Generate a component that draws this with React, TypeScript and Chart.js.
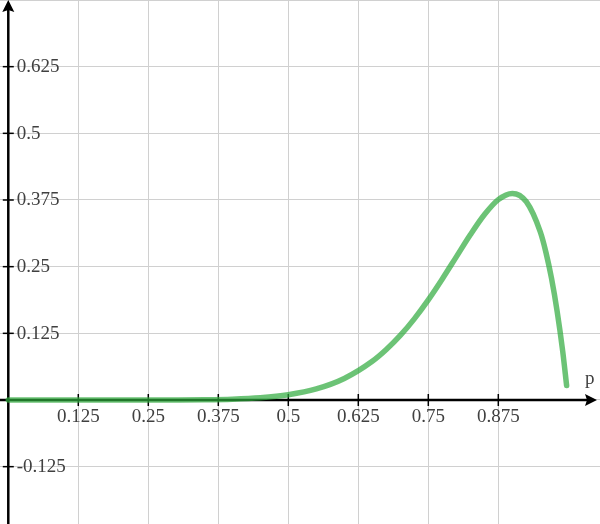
import React, { useEffect, useRef } from "react";
import { Chart, registerables } from "chart.js";

Chart.register(...registerables);

const pValues = [0, 0.05, 0.1, 0.15, 0.2, 0.25, 0.3, 0.35, 0.4, 0.45, 0.5, 0.55, 0.6, 0.65, 0.675, 0.7, 0.725, 0.75, 0.775, 0.8, 0.825, 0.85, 0.875, 0.9, 0.925, 0.95, 0.96, 0.97, 0.98, 0.99, 0.997];
const fValues = [0, 0, 0, 0, 0, 0, 0.0001, 0.0005, 0.0016, 0.0042, 0.0098, 0.0207, 0.0403, 0.0725, 0.0946, 0.121, 0.1522, 0.1877, 0.2269, 0.2684, 0.3098, 0.3474, 0.3758, 0.3874, 0.3718, 0.3151, 0.277, 0.2281, 0.1667, 0.0914, 0.027];
const xTickLabels = ["0.125", "0.25", "0.375", "0.5", "0.625", "0.75", "0.875"];
const xTickValues = [0.125, 0.25, 0.375, 0.5, 0.625, 0.75, 0.875];
const yTickLabels = ["-0.125", "0.125", "0.25", "0.375", "0.5", "0.625"];
const yTickValues = [-0.125, 0.125, 0.25, 0.375, 0.5, 0.625];
const axisLabel = "p";

const X_MIN = -0.0148;
const X_MAX = 1.0566;
const Y_MIN = -0.2325;
const Y_MAX = 0.75;

const isStep = (v: number) => Math.abs(v / 0.125 - Math.round(v / 0.125)) < 1e-6;

const axesPlugin = {
  id: "desmosAxes",
  beforeDatasetsDraw(chart: any) {
    const ctx = chart.ctx;
    const xs = chart.scales.x;
    const ys = chart.scales.y;
    const x0 = xs.getPixelForValue(0);
    const y0 = ys.getPixelForValue(0);
    const W = chart.width;
    ctx.save();
    ctx.strokeStyle = "#000";
    ctx.fillStyle = "#000";
    ctx.lineWidth = 2.5;
    ctx.beginPath();
    ctx.moveTo(0, y0);
    ctx.lineTo(W - 8, y0);
    ctx.stroke();
    ctx.beginPath();
    ctx.moveTo(x0, chart.height);
    ctx.lineTo(x0, 8);
    ctx.stroke();
    ctx.beginPath();
    ctx.moveTo(W - 3, y0);
    ctx.lineTo(W - 15, y0 - 6);
    ctx.lineTo(W - 13, y0);
    ctx.lineTo(W - 15, y0 + 6);
    ctx.closePath();
    ctx.fill();
    ctx.beginPath();
    ctx.moveTo(x0, 0);
    ctx.lineTo(x0 - 6, 12);
    ctx.lineTo(x0, 10);
    ctx.lineTo(x0 + 6, 12);
    ctx.closePath();
    ctx.fill();
    ctx.lineWidth = 1.5;
    xTickValues.forEach((v) => {
      const px = xs.getPixelForValue(v);
      ctx.beginPath();
      ctx.moveTo(px, y0 - 6);
      ctx.lineTo(px, y0 + 6);
      ctx.stroke();
    });
    yTickValues.forEach((v) => {
      const py = ys.getPixelForValue(v);
      ctx.beginPath();
      ctx.moveTo(x0 - 5.5, py);
      ctx.lineTo(x0 + 5.5, py);
      ctx.stroke();
    });
    ctx.fillStyle = "#404040";
    ctx.font = '19px "Liberation Serif", serif';
    ctx.textAlign = "center";
    ctx.textBaseline = "middle";
    xTickValues.forEach((v, i) => {
      ctx.fillText(xTickLabels[i], xs.getPixelForValue(v), y0 + 17);
    });
    ctx.textAlign = "left";
    yTickValues.forEach((v, i) => {
      ctx.fillText(yTickLabels[i], x0 + 8.5, ys.getPixelForValue(v) + 0.5);
    });
    ctx.textBaseline = "alphabetic";
    ctx.fillText(axisLabel, 585, y0 - 16.5);
    ctx.restore();
  },
};

export default function App() {
  const ref = useRef<HTMLCanvasElement | null>(null);
  useEffect(() => {
    if (!ref.current) return;
    const data = pValues.map((p, i) => ({ x: p, y: fValues[i] }));
    const xGridColor = (c: any) =>
      isStep(c.tick.value) && c.tick.value < 0.99 ? "#d0d0d0" : "rgba(0,0,0,0)";
    const yGridColor = (c: any) => (isStep(c.tick.value) ? "#d0d0d0" : "rgba(0,0,0,0)");
    const chart = new Chart(ref.current, {
      type: "line",
      data: {
        datasets: [
          {
            data,
            borderColor: "rgba(45,170,60,0.7)",
            borderWidth: 5.5,
            borderCapStyle: "round",
            borderJoinStyle: "round",
            pointRadius: 0,
            fill: false,
            cubicInterpolationMode: "monotone",
          },
        ],
      },
      options: {
        animation: false,
        responsive: false,
        layout: { padding: 0 },
        plugins: { legend: { display: false }, tooltip: { enabled: false } },
        scales: {
          x: {
            type: "linear",
            min: X_MIN,
            max: X_MAX,
            ticks: { display: false, stepSize: 0.125, includeBounds: false },
            grid: { color: xGridColor, lineWidth: 1, drawTicks: false },
            border: { display: false },
            afterFit: (s: any) => {
              s.height = 0;
            },
          },
          y: {
            type: "linear",
            min: Y_MIN,
            max: Y_MAX,
            ticks: { display: false, stepSize: 0.125, includeBounds: false },
            grid: { color: yGridColor, lineWidth: 1, drawTicks: false },
            border: { display: false },
            afterFit: (s: any) => {
              s.width = 0;
            },
          },
        },
      },
      plugins: [axesPlugin],
    } as any);
    return () => chart.destroy();
  }, []);
  return (
    <div style={{ position: "fixed", left: 0, top: 0, width: 600, height: 524, background: "#fff" }}>
      <canvas ref={ref} width={600} height={524} style={{ display: "block" }} />
    </div>
  );
}
